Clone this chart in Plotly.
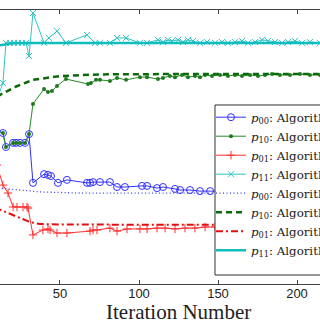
import plotly.graph_objects as go

# ---- data (iteration number, probability) ----
p00_alg_x = [8.9, 13.9, 15.8, 20.3, 22.2, 24.7, 27.9, 30.4, 32.9, 39.9, 42.4, 44.3, 48.7, 54.4, 67.1, 69.0, 70.9,
             75.3, 81.6, 86.1, 91.1, 101.9, 105.1, 111.4, 115.2, 122.8, 126.0, 132.3, 138.6, 145.0, 154.4, 170.3, 189.2, 214.6, 250.0]
p00_alg_y = [0.562, 0.551, 0.500, 0.515, 0.515, 0.515, 0.515, 0.547, 0.369, 0.401, 0.398, 0.394, 0.369, 0.380, 0.369, 0.369, 0.372,
             0.372, 0.372, 0.354, 0.354, 0.358, 0.358, 0.350, 0.354, 0.347, 0.343, 0.343, 0.339, 0.339, 0.339, 0.338, 0.336, 0.336, 0.335]

p10_alg_x = [8.9, 13.9, 15.8, 20.3, 22.2, 24.7, 27.9, 30.4, 32.9, 39.9, 42.4, 44.9, 48.1, 53.8, 67.7, 69.6, 72.8, 75.3,
             81.6, 86.1, 91.8, 100.6, 105.1, 112.0, 115.2, 119.6, 122.8, 127.2, 131.0, 135.4, 138.6, 141.8, 146.2, 151.3,
             156.3, 160.8, 165.2, 170.3, 175.3, 179.8, 184.2, 189.2, 195.6, 201.9, 208.2, 214.6, 250.0]
p10_alg_y = [0.562, 0.551, 0.500, 0.515, 0.515, 0.515, 0.515, 0.547, 0.657, 0.712, 0.701, 0.704, 0.723, 0.748, 0.730, 0.734, 0.745, 0.745,
             0.741, 0.752, 0.745, 0.755, 0.755, 0.748, 0.752, 0.759, 0.755, 0.763, 0.755, 0.759, 0.755, 0.763, 0.759, 0.763,
             0.759, 0.763, 0.759, 0.763, 0.759, 0.763, 0.766, 0.763, 0.763, 0.766, 0.763, 0.763, 0.765]

p01_alg_x = [10.1, 13.9, 17.1, 20.3, 22.8, 26.6, 29.1, 29.8, 32.9, 39.2, 42.4, 43.7, 48.1, 54.4, 69.0, 70.9, 73.4, 81.6,
             86.1, 92.4, 100.6, 105.1, 111.4, 116.5, 122.8, 129.1, 135.4, 141.8, 148.1, 214.6, 250.0]
p01_alg_y = [0.434, 0.361, 0.332, 0.281, 0.281, 0.281, 0.281, 0.277, 0.179, 0.197, 0.201, 0.197, 0.186, 0.186, 0.193, 0.197, 0.197, 0.204,
             0.193, 0.201, 0.201, 0.201, 0.204, 0.204, 0.201, 0.204, 0.204, 0.208, 0.208, 0.208, 0.210]

p11_alg_x = [10.1, 13.9, 15.8, 18.4, 20.9, 23.4, 25.9, 28.5, 30.4, 32.9, 39.9, 43.0, 48.1, 53.8, 67.1, 72.2, 75.3, 81.6,
             86.1, 91.8, 100.6, 105.1, 112.0, 115.2, 118.4, 120.9, 124.7, 127.9, 131.0, 134.2, 138.6, 143.0, 148.1, 152.5,
             156.3, 160.8, 165.2, 169.0, 173.4, 177.9, 181.6, 186.1, 190.5, 194.3, 198.7, 203.2, 208.2, 214.6, 250.0]
p11_alg_y = [0.672, 0.734, 0.880, 0.880, 0.880, 0.880, 0.880, 0.880, 0.832, 0.989, 0.880, 0.898, 0.923, 0.880, 0.909, 0.880, 0.880, 0.880,
             0.898, 0.898, 0.880, 0.880, 0.891, 0.883, 0.891, 0.887, 0.891, 0.883, 0.891, 0.887, 0.880, 0.883, 0.880, 0.883,
             0.880, 0.883, 0.887, 0.880, 0.883, 0.891, 0.887, 0.883, 0.880, 0.883, 0.887, 0.880, 0.883, 0.880, 0.882]

p00_ref_x = [0.0, 12.0, 24.7, 37.3, 62.6, 250.0]
p00_ref_y = [0.360, 0.350, 0.343, 0.336, 0.332, 0.332]
p10_ref_x = [0.0, 12.0, 21.5, 32.9, 50.0, 75.3, 113.0, 250.0]
p10_ref_y = [0.640, 0.690, 0.719, 0.745, 0.759, 0.765, 0.766, 0.766]
p01_ref_x = [0.0, 12.0, 18.3, 24.7, 31.0, 37.3, 50.0, 250.0]
p01_ref_y = [0.300, 0.270, 0.255, 0.241, 0.226, 0.219, 0.217, 0.215]
p11_ref_x = [0.0, 12.0, 16.0, 20.0, 30.0, 60.0, 250.0]
p11_ref_y = [0.860, 0.873, 0.877, 0.879, 0.880, 0.880, 0.880]

x_ticks = [50, 100, 150, 200]

fig = go.Figure()
lab = lambda s, a: f"<i>p</i><sub>{s}</sub>: Algorithm {a}"

fig.add_trace(go.Scatter(x=p00_alg_x, y=p00_alg_y, mode="lines+markers", name=lab("00", 1),
                         line=dict(color="#3030ff", width=1),
                         marker=dict(symbol="circle-open", size=7, color="#3030ff", line=dict(width=1))))
fig.add_trace(go.Scatter(x=p10_alg_x, y=p10_alg_y, mode="lines+markers", name=lab("10", 1),
                         line=dict(color="#2a8a2a", width=1),
                         marker=dict(symbol="circle", size=4, color="#1f7a1f")))
fig.add_trace(go.Scatter(x=p01_alg_x, y=p01_alg_y, mode="lines+markers", name=lab("01", 1),
                         line=dict(color="#ff3030", width=1),
                         marker=dict(symbol="cross-thin-open", size=6, color="#ff3030", line=dict(width=1, color="#ff3030"))))
fig.add_trace(go.Scatter(x=p11_alg_x, y=p11_alg_y, mode="lines+markers", name=lab("11", 1),
                         line=dict(color="#30c4c4", width=1),
                         marker=dict(symbol="x-thin-open", size=6, color="#30c4c4", line=dict(width=1, color="#30c4c4"))))
fig.add_trace(go.Scatter(x=p00_ref_x, y=p00_ref_y, mode="lines", name=lab("00", 2),
                         line=dict(color="#3a3aff", width=1.3, dash="1px,2.5px")))
fig.add_trace(go.Scatter(x=p10_ref_x, y=p10_ref_y, mode="lines", name=lab("10", 2),
                         line=dict(color="#0a6a0a", width=2.5, dash="6px,4px")))
fig.add_trace(go.Scatter(x=p01_ref_x, y=p01_ref_y, mode="lines", name=lab("01", 2),
                         line=dict(color="#e01010", width=2, dash="7px,3px,2px,3px")))
fig.add_trace(go.Scatter(x=p11_ref_x, y=p11_ref_y, mode="lines", name=lab("11", 2),
                         line=dict(color="#10bcbc", width=2.5)))

fig.update_layout(
    width=400, height=320,
    margin=dict(l=0, r=24, t=10, b=36),
    paper_bgcolor="white", plot_bgcolor="white",
    showlegend=True,
    legend=dict(x=211 / 376, y=0.6617, xanchor="left", yanchor="top",
                bgcolor="rgba(0,0,0,0)", borderwidth=0,
                font=dict(family="DejaVu Serif", size=11.8, color="#222222"),
                itemwidth=30, tracegroupgap=0),
    xaxis=dict(range=[12.03, 250], tickvals=x_ticks, ticks="inside", ticklen=4,
               tickcolor="#444444", showline=True, linecolor="#444444", linewidth=1,
               mirror="ticks", showgrid=False, zeroline=False,
               tickfont=dict(family="Liberation Sans", size=13, color="#222222"),
               ticklabelstandoff=-3),
    yaxis=dict(range=[0, 1], showticklabels=False, ticks="", showline=False,
               showgrid=False, zeroline=False),
    shapes=[dict(type="rect", xref="paper", yref="paper", x0=215 / 376, x1=1.15, y0=0.0328, y1=0.6533,
                 fillcolor="white", line=dict(color="#333333", width=1), layer="above")],
    annotations=[dict(text="Iteration Number", x=178 / 376, y=-0.104, xref="paper", yref="paper",
                      xanchor="center", yanchor="middle", showarrow=False,
                      font=dict(family="Liberation Serif", size=21, color="#222222"))],
)

fig.write_html(
    "out.html",
    post_script="document.documentElement.style.overflow='hidden';document.body.style.overflow='hidden';",
)
